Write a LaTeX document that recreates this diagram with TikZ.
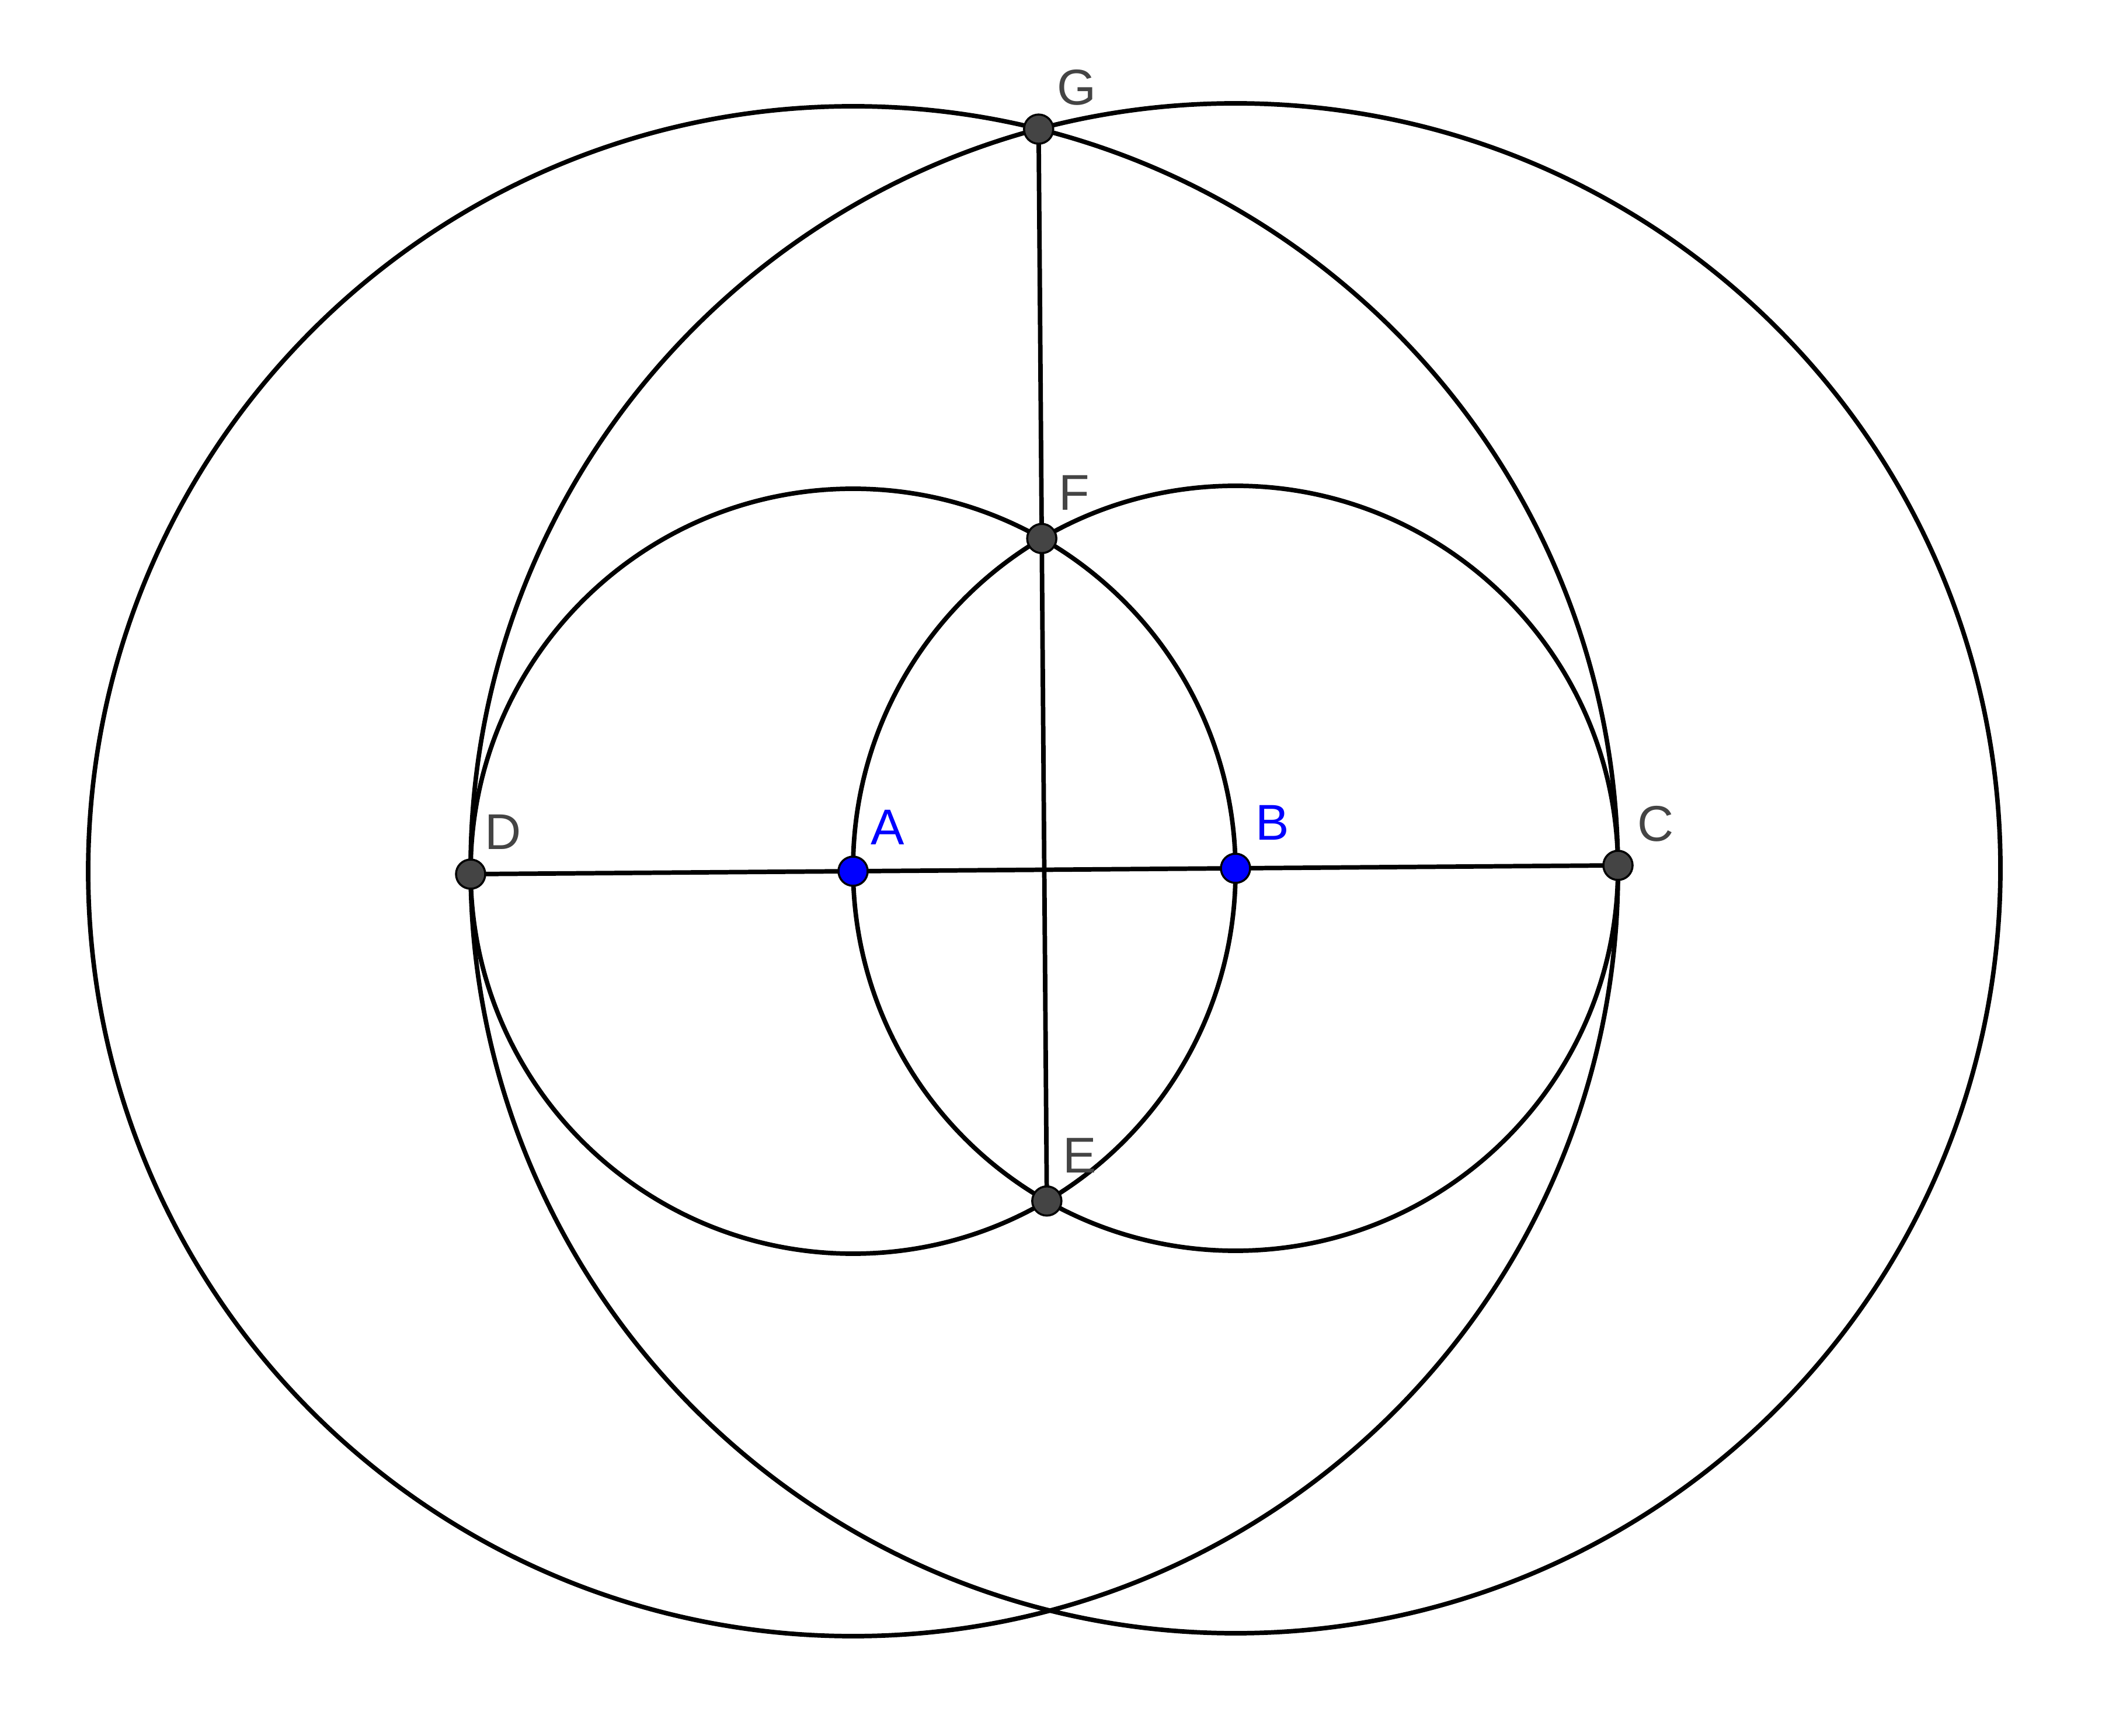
\documentclass[tikz,border=0pt]{standalone}
\usepackage{fontspec}
\setmainfont{Liberation Sans}
\usetikzlibrary{calc}
\definecolor{ptgray}{RGB}{68,68,68}
\definecolor{ptblue}{RGB}{0,0,255}

\begin{document}
\begin{tikzpicture}[
    line width=2.2pt,
    freept/.style={circle, fill=ptblue, draw=black, line width=1pt, inner sep=0pt, minimum size=0.5cm},
    deppt/.style={circle, fill=ptgray, draw=black, line width=1pt, inner sep=0pt, minimum size=0.5cm},
    lbl/.style={text=ptgray, font=\fontsize{24.5}{28}\selectfont, inner sep=0pt},
    bluelbl/.style={lbl, text=ptblue}
  ]
        \useasboundingbox (0,0) rectangle (36,29.72);

        % The two free points and the constructed ones
        \coordinate (A) at (14.61,14.80);
        \coordinate (B) at (21.16,14.85);
        \coordinate (C) at ($(A)!2!(B)$);
        \coordinate (D) at ($(B)!2!(A)$);
        \coordinate (F) at ($(A)!1!60:(B)$);
        \coordinate (E) at ($(A)!1!-60:(B)$);
        \coordinate (G) at ($(A)!2!75.5225:(B)$);

        % Draw the small circles
        \draw (A) circle (6.55);
        \draw (B) circle (6.55);

        % Draw the large circles
        \draw (A) circle (13.1);
        \draw (B) circle (13.1);

        % Draw the segments
        \draw (D) -- (C);
        \draw (G) -- (E);

        % Mark the points
        \node[freept] (ptA) at (A) {};
        \node[freept] (ptB) at (B) {};
        \node[deppt] (ptC) at (C) {};
        \node[deppt] (ptD) at (D) {};
        \node[deppt] (ptE) at (E) {};
        \node[deppt] (ptF) at (F) {};
        \node[deppt] (ptG) at (G) {};

        % Add labels
        \node[bluelbl] (labA) at ($(A)+(0.59,0.75)$) {A};
        \node[bluelbl] (labB) at ($(B)+(0.63,0.78)$) {B};
        \node[lbl] (labC) at ($(C)+(0.65,0.71)$) {C};
        \node[lbl] (labD) at ($(D)+(0.56,0.72)$) {D};
        \node[lbl] (labE) at ($(E)+(0.56,0.78)$) {E};
        \node[lbl] (labF) at ($(F)+(0.56,0.78)$) {F};
        \node[lbl] (labG) at ($(G)+(0.65,0.71)$) {G};
      \end{tikzpicture}
\end{document}
